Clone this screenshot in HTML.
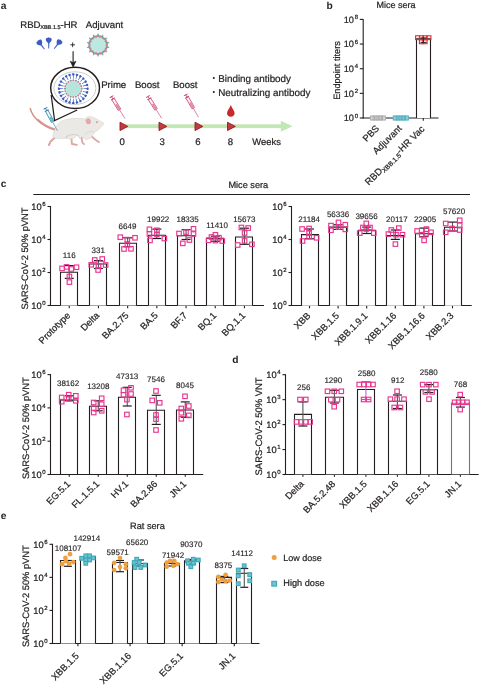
<!DOCTYPE html><html><head><meta charset="utf-8"><style>html,body{margin:0;padding:0;background:#fff;width:480px;height:685px;overflow:hidden}svg{display:block;will-change:transform}text{font-family:"Liberation Sans",sans-serif;text-rendering:geometricPrecision;stroke:#231f20;stroke-width:0.22px}</style></head><body>
<svg width="480" height="685" viewBox="0 0 480 685">
<rect width="480" height="685" fill="#fff"/>
<text x="0.80" y="9.20" font-size="10.2" text-anchor="start" fill="#231f20" font-weight="bold" style="stroke:none">a</text>
<text x="326.60" y="8.90" font-size="10.2" text-anchor="start" fill="#231f20" font-weight="bold" style="stroke:none">b</text>
<text x="0.80" y="186.80" font-size="10.2" text-anchor="start" fill="#231f20" font-weight="bold" style="stroke:none">c</text>
<text x="232.20" y="363.30" font-size="10.2" text-anchor="start" fill="#231f20" font-weight="bold" style="stroke:none">d</text>
<text x="0.80" y="519.30" font-size="10.2" text-anchor="start" fill="#231f20" font-weight="bold" style="stroke:none">e</text>
<line x1="33.30" y1="194.50" x2="470.00" y2="194.50" stroke="#231f20" stroke-width="1.1" />
<text x="248.30" y="188.00" font-size="9.2" text-anchor="middle" fill="#231f20" font-weight="normal" >Mice sera</text>
<line x1="50.50" y1="206.00" x2="50.50" y2="306.00" stroke="#231f20" stroke-width="1.1" />
<line x1="50.00" y1="305.50" x2="264.00" y2="305.50" stroke="#231f20" stroke-width="1.1" />
<line x1="47.50" y1="305.50" x2="50.50" y2="305.50" stroke="#231f20" stroke-width="1.1" />
<text x="41.60" y="308.90" font-size="9.3" text-anchor="end" fill="#231f20">10</text>
<text x="45.50" y="305.20" font-size="6.0" text-anchor="end" fill="#231f20">0</text>
<line x1="47.50" y1="272.50" x2="50.50" y2="272.50" stroke="#231f20" stroke-width="1.1" />
<text x="41.60" y="275.90" font-size="9.3" text-anchor="end" fill="#231f20">10</text>
<text x="45.50" y="272.20" font-size="6.0" text-anchor="end" fill="#231f20">2</text>
<line x1="47.50" y1="239.50" x2="50.50" y2="239.50" stroke="#231f20" stroke-width="1.1" />
<text x="41.60" y="242.90" font-size="9.3" text-anchor="end" fill="#231f20">10</text>
<text x="45.50" y="239.20" font-size="6.0" text-anchor="end" fill="#231f20">4</text>
<line x1="47.50" y1="206.50" x2="50.50" y2="206.50" stroke="#231f20" stroke-width="1.1" />
<text x="41.60" y="209.90" font-size="9.3" text-anchor="end" fill="#231f20">10</text>
<text x="45.50" y="206.20" font-size="6.0" text-anchor="end" fill="#231f20">6</text>
<line x1="69.25" y1="305.60" x2="69.25" y2="308.20" stroke="#231f20" stroke-width="1.1" />
<text transform="translate(70.85,316.00) rotate(-45)" font-size="9.4" text-anchor="end" fill="#231f20">Prototype</text>
<line x1="98.45" y1="305.60" x2="98.45" y2="308.20" stroke="#231f20" stroke-width="1.1" />
<text transform="translate(100.05,316.00) rotate(-45)" font-size="9.4" text-anchor="end" fill="#231f20">Delta</text>
<line x1="127.65" y1="305.60" x2="127.65" y2="308.20" stroke="#231f20" stroke-width="1.1" />
<text transform="translate(129.25,316.00) rotate(-45)" font-size="9.4" text-anchor="end" fill="#231f20">BA.2.75</text>
<line x1="156.85" y1="305.60" x2="156.85" y2="308.20" stroke="#231f20" stroke-width="1.1" />
<text transform="translate(158.45,316.00) rotate(-45)" font-size="9.4" text-anchor="end" fill="#231f20">BA.5</text>
<line x1="186.05" y1="305.60" x2="186.05" y2="308.20" stroke="#231f20" stroke-width="1.1" />
<text transform="translate(187.65,316.00) rotate(-45)" font-size="9.4" text-anchor="end" fill="#231f20">BF.7</text>
<line x1="215.25" y1="305.60" x2="215.25" y2="308.20" stroke="#231f20" stroke-width="1.1" />
<text transform="translate(216.85,316.00) rotate(-45)" font-size="9.4" text-anchor="end" fill="#231f20">BQ.1</text>
<line x1="244.45" y1="305.60" x2="244.45" y2="308.20" stroke="#231f20" stroke-width="1.1" />
<text transform="translate(246.05,316.00) rotate(-45)" font-size="9.4" text-anchor="end" fill="#231f20">BQ.1.1</text>
<path d="M60.50,305.60 V272.20 H77.50 V305.60" fill="#fff" stroke="#231f20" stroke-width="1.1"/>
<path d="M89.50,305.60 V264.00 H106.50 V305.60" fill="#fff" stroke="#231f20" stroke-width="1.1"/>
<path d="M119.50,305.60 V243.20 H136.50 V305.60" fill="#fff" stroke="#231f20" stroke-width="1.1"/>
<path d="M148.50,305.60 V235.30 H165.50 V305.60" fill="#fff" stroke="#231f20" stroke-width="1.1"/>
<path d="M177.50,305.60 V235.70 H194.50 V305.60" fill="#fff" stroke="#231f20" stroke-width="1.1"/>
<path d="M206.50,305.60 V238.40 H223.50 V305.60" fill="#fff" stroke="#231f20" stroke-width="1.1"/>
<path d="M235.50,305.60 V237.00 H252.50 V305.60" fill="#fff" stroke="#231f20" stroke-width="1.1"/>
<line x1="69.25" y1="265.60" x2="69.25" y2="278.40" stroke="#555" stroke-width="1.1" />
<line x1="64.75" y1="265.60" x2="73.75" y2="265.60" stroke="#231f20" stroke-width="1.2" />
<line x1="64.75" y1="278.40" x2="73.75" y2="278.40" stroke="#231f20" stroke-width="1.2" />
<rect x="59.85" y="266.15" width="4.5" height="4.5" fill="none" stroke="#e8368e" stroke-width="1.15"/>
<rect x="64.35" y="264.65" width="4.5" height="4.5" fill="none" stroke="#e8368e" stroke-width="1.15"/>
<rect x="69.00" y="266.75" width="4.5" height="4.5" fill="none" stroke="#e8368e" stroke-width="1.15"/>
<rect x="74.25" y="265.00" width="4.5" height="4.5" fill="none" stroke="#e8368e" stroke-width="1.15"/>
<rect x="67.15" y="274.25" width="4.5" height="4.5" fill="none" stroke="#e8368e" stroke-width="1.15"/>
<rect x="67.15" y="279.85" width="4.5" height="4.5" fill="none" stroke="#e8368e" stroke-width="1.15"/>
<text x="69.25" y="257.60" font-size="8.0" text-anchor="middle" fill="#231f20" font-weight="normal" style="stroke-width:0.14px">116</text>
<line x1="98.45" y1="260.60" x2="98.45" y2="268.50" stroke="#555" stroke-width="1.1" />
<line x1="93.95" y1="260.60" x2="102.95" y2="260.60" stroke="#231f20" stroke-width="1.2" />
<line x1="93.95" y1="268.50" x2="102.95" y2="268.50" stroke="#231f20" stroke-width="1.2" />
<rect x="92.50" y="257.75" width="4.5" height="4.5" fill="none" stroke="#e8368e" stroke-width="1.15"/>
<rect x="100.00" y="256.75" width="4.5" height="4.5" fill="none" stroke="#e8368e" stroke-width="1.15"/>
<rect x="89.00" y="262.50" width="4.5" height="4.5" fill="none" stroke="#e8368e" stroke-width="1.15"/>
<rect x="103.35" y="262.75" width="4.5" height="4.5" fill="none" stroke="#e8368e" stroke-width="1.15"/>
<rect x="96.25" y="263.75" width="4.5" height="4.5" fill="none" stroke="#e8368e" stroke-width="1.15"/>
<rect x="95.85" y="267.75" width="4.5" height="4.5" fill="none" stroke="#e8368e" stroke-width="1.15"/>
<text x="98.30" y="253.20" font-size="8.0" text-anchor="middle" fill="#231f20" font-weight="normal" style="stroke-width:0.14px">331</text>
<line x1="127.65" y1="237.80" x2="127.65" y2="246.60" stroke="#555" stroke-width="1.1" />
<line x1="123.15" y1="237.80" x2="132.15" y2="237.80" stroke="#231f20" stroke-width="1.2" />
<line x1="123.15" y1="246.60" x2="132.15" y2="246.60" stroke="#231f20" stroke-width="1.2" />
<rect x="118.05" y="234.95" width="4.5" height="4.5" fill="none" stroke="#e8368e" stroke-width="1.15"/>
<rect x="132.75" y="235.55" width="4.5" height="4.5" fill="none" stroke="#e8368e" stroke-width="1.15"/>
<rect x="125.05" y="237.35" width="4.5" height="4.5" fill="none" stroke="#e8368e" stroke-width="1.15"/>
<rect x="121.75" y="246.75" width="4.5" height="4.5" fill="none" stroke="#e8368e" stroke-width="1.15"/>
<rect x="128.75" y="246.55" width="4.5" height="4.5" fill="none" stroke="#e8368e" stroke-width="1.15"/>
<rect x="125.15" y="242.45" width="4.5" height="4.5" fill="none" stroke="#e8368e" stroke-width="1.15"/>
<text x="127.50" y="229.10" font-size="8.0" text-anchor="middle" fill="#231f20" font-weight="normal" style="stroke-width:0.14px">6649</text>
<line x1="156.85" y1="229.10" x2="156.85" y2="238.50" stroke="#555" stroke-width="1.1" />
<line x1="152.35" y1="229.10" x2="161.35" y2="229.10" stroke="#231f20" stroke-width="1.2" />
<line x1="152.35" y1="238.50" x2="161.35" y2="238.50" stroke="#231f20" stroke-width="1.2" />
<rect x="147.15" y="227.05" width="4.5" height="4.5" fill="none" stroke="#e8368e" stroke-width="1.15"/>
<rect x="147.15" y="231.75" width="4.5" height="4.5" fill="none" stroke="#e8368e" stroke-width="1.15"/>
<rect x="154.65" y="228.05" width="4.5" height="4.5" fill="none" stroke="#e8368e" stroke-width="1.15"/>
<rect x="154.65" y="232.15" width="4.5" height="4.5" fill="none" stroke="#e8368e" stroke-width="1.15"/>
<rect x="147.75" y="238.15" width="4.5" height="4.5" fill="none" stroke="#e8368e" stroke-width="1.15"/>
<rect x="162.15" y="236.25" width="4.5" height="4.5" fill="none" stroke="#e8368e" stroke-width="1.15"/>
<text x="158.20" y="222.30" font-size="8.0" text-anchor="middle" fill="#231f20" font-weight="normal" style="stroke-width:0.14px">19922</text>
<line x1="186.05" y1="229.70" x2="186.05" y2="239.50" stroke="#555" stroke-width="1.1" />
<line x1="181.55" y1="229.70" x2="190.55" y2="229.70" stroke="#231f20" stroke-width="1.2" />
<line x1="181.55" y1="239.50" x2="190.55" y2="239.50" stroke="#231f20" stroke-width="1.2" />
<rect x="176.75" y="231.25" width="4.5" height="4.5" fill="none" stroke="#e8368e" stroke-width="1.15"/>
<rect x="183.75" y="229.85" width="4.5" height="4.5" fill="none" stroke="#e8368e" stroke-width="1.15"/>
<rect x="191.25" y="226.55" width="4.5" height="4.5" fill="none" stroke="#e8368e" stroke-width="1.15"/>
<rect x="191.25" y="231.75" width="4.5" height="4.5" fill="none" stroke="#e8368e" stroke-width="1.15"/>
<rect x="187.15" y="237.75" width="4.5" height="4.5" fill="none" stroke="#e8368e" stroke-width="1.15"/>
<rect x="180.55" y="241.15" width="4.5" height="4.5" fill="none" stroke="#e8368e" stroke-width="1.15"/>
<text x="187.60" y="222.30" font-size="8.0" text-anchor="middle" fill="#231f20" font-weight="normal" style="stroke-width:0.14px">18335</text>
<line x1="215.25" y1="236.20" x2="215.25" y2="241.30" stroke="#555" stroke-width="1.1" />
<line x1="210.75" y1="236.20" x2="219.75" y2="236.20" stroke="#231f20" stroke-width="1.2" />
<line x1="210.75" y1="241.30" x2="219.75" y2="241.30" stroke="#231f20" stroke-width="1.2" />
<rect x="206.35" y="238.05" width="4.5" height="4.5" fill="none" stroke="#e8368e" stroke-width="1.15"/>
<rect x="209.25" y="234.75" width="4.5" height="4.5" fill="none" stroke="#e8368e" stroke-width="1.15"/>
<rect x="213.15" y="232.55" width="4.5" height="4.5" fill="none" stroke="#e8368e" stroke-width="1.15"/>
<rect x="216.75" y="235.45" width="4.5" height="4.5" fill="none" stroke="#e8368e" stroke-width="1.15"/>
<rect x="220.05" y="238.75" width="4.5" height="4.5" fill="none" stroke="#e8368e" stroke-width="1.15"/>
<rect x="213.15" y="238.35" width="4.5" height="4.5" fill="none" stroke="#e8368e" stroke-width="1.15"/>
<text x="217.20" y="228.20" font-size="8.0" text-anchor="middle" fill="#231f20" font-weight="normal" style="stroke-width:0.14px">11410</text>
<line x1="244.45" y1="228.20" x2="244.45" y2="244.30" stroke="#555" stroke-width="1.1" />
<line x1="239.95" y1="228.20" x2="248.95" y2="228.20" stroke="#231f20" stroke-width="1.2" />
<line x1="239.95" y1="244.30" x2="248.95" y2="244.30" stroke="#231f20" stroke-width="1.2" />
<rect x="239.15" y="225.25" width="4.5" height="4.5" fill="none" stroke="#e8368e" stroke-width="1.15"/>
<rect x="245.95" y="225.75" width="4.5" height="4.5" fill="none" stroke="#e8368e" stroke-width="1.15"/>
<rect x="242.35" y="230.75" width="4.5" height="4.5" fill="none" stroke="#e8368e" stroke-width="1.15"/>
<rect x="242.35" y="238.65" width="4.5" height="4.5" fill="none" stroke="#e8368e" stroke-width="1.15"/>
<rect x="235.45" y="242.75" width="4.5" height="4.5" fill="none" stroke="#e8368e" stroke-width="1.15"/>
<rect x="249.65" y="242.05" width="4.5" height="4.5" fill="none" stroke="#e8368e" stroke-width="1.15"/>
<text x="244.30" y="222.40" font-size="8.0" text-anchor="middle" fill="#231f20" font-weight="normal" style="stroke-width:0.14px">15673</text>
<line x1="291.50" y1="206.00" x2="291.50" y2="306.00" stroke="#231f20" stroke-width="1.1" />
<line x1="291.00" y1="305.50" x2="471.70" y2="305.50" stroke="#231f20" stroke-width="1.1" />
<line x1="288.50" y1="305.50" x2="291.50" y2="305.50" stroke="#231f20" stroke-width="1.1" />
<text x="282.60" y="308.90" font-size="9.3" text-anchor="end" fill="#231f20">10</text>
<text x="286.50" y="305.20" font-size="6.0" text-anchor="end" fill="#231f20">0</text>
<line x1="288.50" y1="272.50" x2="291.50" y2="272.50" stroke="#231f20" stroke-width="1.1" />
<text x="282.60" y="275.90" font-size="9.3" text-anchor="end" fill="#231f20">10</text>
<text x="286.50" y="272.20" font-size="6.0" text-anchor="end" fill="#231f20">2</text>
<line x1="288.50" y1="239.50" x2="291.50" y2="239.50" stroke="#231f20" stroke-width="1.1" />
<text x="282.60" y="242.90" font-size="9.3" text-anchor="end" fill="#231f20">10</text>
<text x="286.50" y="239.20" font-size="6.0" text-anchor="end" fill="#231f20">4</text>
<line x1="288.50" y1="206.50" x2="291.50" y2="206.50" stroke="#231f20" stroke-width="1.1" />
<text x="282.60" y="209.90" font-size="9.3" text-anchor="end" fill="#231f20">10</text>
<text x="286.50" y="206.20" font-size="6.0" text-anchor="end" fill="#231f20">6</text>
<line x1="309.50" y1="305.80" x2="309.50" y2="308.40" stroke="#231f20" stroke-width="1.1" />
<text transform="translate(311.10,316.20) rotate(-45)" font-size="9.4" text-anchor="end" fill="#231f20">XBB</text>
<line x1="338.10" y1="305.80" x2="338.10" y2="308.40" stroke="#231f20" stroke-width="1.1" />
<text transform="translate(339.70,316.20) rotate(-45)" font-size="9.4" text-anchor="end" fill="#231f20">XBB.1.5</text>
<line x1="366.70" y1="305.80" x2="366.70" y2="308.40" stroke="#231f20" stroke-width="1.1" />
<text transform="translate(368.30,316.20) rotate(-45)" font-size="9.4" text-anchor="end" fill="#231f20">XBB.1.9.1</text>
<line x1="395.30" y1="305.80" x2="395.30" y2="308.40" stroke="#231f20" stroke-width="1.1" />
<text transform="translate(396.90,316.20) rotate(-45)" font-size="9.4" text-anchor="end" fill="#231f20">XBB.1.16</text>
<line x1="423.90" y1="305.80" x2="423.90" y2="308.40" stroke="#231f20" stroke-width="1.1" />
<text transform="translate(425.50,316.20) rotate(-45)" font-size="9.4" text-anchor="end" fill="#231f20">XBB.1.16.6</text>
<line x1="452.50" y1="305.80" x2="452.50" y2="308.40" stroke="#231f20" stroke-width="1.1" />
<text transform="translate(454.10,316.20) rotate(-45)" font-size="9.4" text-anchor="end" fill="#231f20">XBB.2.3</text>
<path d="M301.50,305.80 V234.60 H318.50 V305.80" fill="#fff" stroke="#231f20" stroke-width="1.1"/>
<path d="M329.50,305.80 V227.10 H346.50 V305.80" fill="#fff" stroke="#231f20" stroke-width="1.1"/>
<path d="M358.50,305.80 V230.30 H375.50 V305.80" fill="#fff" stroke="#231f20" stroke-width="1.1"/>
<path d="M386.50,305.80 V235.60 H403.50 V305.80" fill="#fff" stroke="#231f20" stroke-width="1.1"/>
<path d="M415.50,305.80 V233.80 H432.50 V305.80" fill="#fff" stroke="#231f20" stroke-width="1.1"/>
<path d="M444.50,305.80 V227.20 H461.50 V305.80" fill="#fff" stroke="#231f20" stroke-width="1.1"/>
<line x1="309.50" y1="229.00" x2="309.50" y2="238.80" stroke="#555" stroke-width="1.1" />
<line x1="305.00" y1="229.00" x2="314.00" y2="229.00" stroke="#231f20" stroke-width="1.2" />
<line x1="305.00" y1="238.80" x2="314.00" y2="238.80" stroke="#231f20" stroke-width="1.2" />
<rect x="299.85" y="226.75" width="4.5" height="4.5" fill="none" stroke="#e8368e" stroke-width="1.15"/>
<rect x="306.85" y="226.25" width="4.5" height="4.5" fill="none" stroke="#e8368e" stroke-width="1.15"/>
<rect x="306.85" y="230.85" width="4.5" height="4.5" fill="none" stroke="#e8368e" stroke-width="1.15"/>
<rect x="306.85" y="234.25" width="4.5" height="4.5" fill="none" stroke="#e8368e" stroke-width="1.15"/>
<rect x="314.35" y="235.55" width="4.5" height="4.5" fill="none" stroke="#e8368e" stroke-width="1.15"/>
<rect x="300.25" y="238.75" width="4.5" height="4.5" fill="none" stroke="#e8368e" stroke-width="1.15"/>
<text x="309.20" y="222.20" font-size="8.0" text-anchor="middle" fill="#231f20" font-weight="normal" style="stroke-width:0.14px">21184</text>
<line x1="338.10" y1="224.70" x2="338.10" y2="229.40" stroke="#555" stroke-width="1.1" />
<line x1="333.60" y1="224.70" x2="342.60" y2="224.70" stroke="#231f20" stroke-width="1.2" />
<line x1="333.60" y1="229.40" x2="342.60" y2="229.40" stroke="#231f20" stroke-width="1.2" />
<rect x="336.25" y="220.15" width="4.5" height="4.5" fill="none" stroke="#e8368e" stroke-width="1.15"/>
<rect x="328.75" y="223.35" width="4.5" height="4.5" fill="none" stroke="#e8368e" stroke-width="1.15"/>
<rect x="343.05" y="222.45" width="4.5" height="4.5" fill="none" stroke="#e8368e" stroke-width="1.15"/>
<rect x="328.75" y="228.05" width="4.5" height="4.5" fill="none" stroke="#e8368e" stroke-width="1.15"/>
<rect x="343.05" y="227.15" width="4.5" height="4.5" fill="none" stroke="#e8368e" stroke-width="1.15"/>
<rect x="336.25" y="224.85" width="4.5" height="4.5" fill="none" stroke="#e8368e" stroke-width="1.15"/>
<text x="338.00" y="217.00" font-size="8.0" text-anchor="middle" fill="#231f20" font-weight="normal" style="stroke-width:0.14px">56336</text>
<line x1="366.70" y1="227.10" x2="366.70" y2="233.50" stroke="#555" stroke-width="1.1" />
<line x1="362.20" y1="227.10" x2="371.20" y2="227.10" stroke="#231f20" stroke-width="1.2" />
<line x1="362.20" y1="233.50" x2="371.20" y2="233.50" stroke="#231f20" stroke-width="1.2" />
<rect x="364.05" y="221.15" width="4.5" height="4.5" fill="none" stroke="#e8368e" stroke-width="1.15"/>
<rect x="360.65" y="225.25" width="4.5" height="4.5" fill="none" stroke="#e8368e" stroke-width="1.15"/>
<rect x="367.75" y="225.25" width="4.5" height="4.5" fill="none" stroke="#e8368e" stroke-width="1.15"/>
<rect x="357.45" y="230.85" width="4.5" height="4.5" fill="none" stroke="#e8368e" stroke-width="1.15"/>
<rect x="371.55" y="230.85" width="4.5" height="4.5" fill="none" stroke="#e8368e" stroke-width="1.15"/>
<rect x="364.05" y="226.75" width="4.5" height="4.5" fill="none" stroke="#e8368e" stroke-width="1.15"/>
<text x="366.50" y="218.50" font-size="8.0" text-anchor="middle" fill="#231f20" font-weight="normal" style="stroke-width:0.14px">39656</text>
<line x1="395.30" y1="230.00" x2="395.30" y2="239.40" stroke="#555" stroke-width="1.1" />
<line x1="390.80" y1="230.00" x2="399.80" y2="230.00" stroke="#231f20" stroke-width="1.2" />
<line x1="390.80" y1="239.40" x2="399.80" y2="239.40" stroke="#231f20" stroke-width="1.2" />
<rect x="389.05" y="227.75" width="4.5" height="4.5" fill="none" stroke="#e8368e" stroke-width="1.15"/>
<rect x="396.55" y="225.85" width="4.5" height="4.5" fill="none" stroke="#e8368e" stroke-width="1.15"/>
<rect x="386.15" y="231.85" width="4.5" height="4.5" fill="none" stroke="#e8368e" stroke-width="1.15"/>
<rect x="393.75" y="232.45" width="4.5" height="4.5" fill="none" stroke="#e8368e" stroke-width="1.15"/>
<rect x="400.25" y="232.45" width="4.5" height="4.5" fill="none" stroke="#e8368e" stroke-width="1.15"/>
<rect x="393.15" y="241.85" width="4.5" height="4.5" fill="none" stroke="#e8368e" stroke-width="1.15"/>
<text x="396.90" y="222.30" font-size="8.0" text-anchor="middle" fill="#231f20" font-weight="normal" style="stroke-width:0.14px">20117</text>
<line x1="423.90" y1="228.10" x2="423.90" y2="236.60" stroke="#555" stroke-width="1.1" />
<line x1="419.40" y1="228.10" x2="428.40" y2="228.10" stroke="#231f20" stroke-width="1.2" />
<line x1="419.40" y1="236.60" x2="428.40" y2="236.60" stroke="#231f20" stroke-width="1.2" />
<rect x="414.85" y="228.75" width="4.5" height="4.5" fill="none" stroke="#e8368e" stroke-width="1.15"/>
<rect x="424.25" y="226.85" width="4.5" height="4.5" fill="none" stroke="#e8368e" stroke-width="1.15"/>
<rect x="428.75" y="230.05" width="4.5" height="4.5" fill="none" stroke="#e8368e" stroke-width="1.15"/>
<rect x="419.45" y="232.45" width="4.5" height="4.5" fill="none" stroke="#e8368e" stroke-width="1.15"/>
<rect x="423.75" y="231.55" width="4.5" height="4.5" fill="none" stroke="#e8368e" stroke-width="1.15"/>
<rect x="421.85" y="238.05" width="4.5" height="4.5" fill="none" stroke="#e8368e" stroke-width="1.15"/>
<text x="425.00" y="222.30" font-size="8.0" text-anchor="middle" fill="#231f20" font-weight="normal" style="stroke-width:0.14px">22905</text>
<line x1="452.50" y1="222.10" x2="452.50" y2="231.00" stroke="#555" stroke-width="1.1" />
<line x1="448.00" y1="222.10" x2="457.00" y2="222.10" stroke="#231f20" stroke-width="1.2" />
<line x1="448.00" y1="231.00" x2="457.00" y2="231.00" stroke="#231f20" stroke-width="1.2" />
<rect x="443.45" y="221.25" width="4.5" height="4.5" fill="none" stroke="#e8368e" stroke-width="1.15"/>
<rect x="457.45" y="218.05" width="4.5" height="4.5" fill="none" stroke="#e8368e" stroke-width="1.15"/>
<rect x="457.45" y="223.05" width="4.5" height="4.5" fill="none" stroke="#e8368e" stroke-width="1.15"/>
<rect x="449.95" y="226.25" width="4.5" height="4.5" fill="none" stroke="#e8368e" stroke-width="1.15"/>
<rect x="457.45" y="227.75" width="4.5" height="4.5" fill="none" stroke="#e8368e" stroke-width="1.15"/>
<rect x="443.45" y="230.05" width="4.5" height="4.5" fill="none" stroke="#e8368e" stroke-width="1.15"/>
<text x="454.10" y="214.20" font-size="8.0" text-anchor="middle" fill="#231f20" font-weight="normal" style="stroke-width:0.14px">57620</text>
<line x1="50.50" y1="374.10" x2="50.50" y2="475.00" stroke="#231f20" stroke-width="1.1" />
<line x1="50.00" y1="474.50" x2="203.25" y2="474.50" stroke="#231f20" stroke-width="1.1" />
<line x1="47.50" y1="474.50" x2="50.50" y2="474.50" stroke="#231f20" stroke-width="1.1" />
<text x="41.60" y="477.90" font-size="9.3" text-anchor="end" fill="#231f20">10</text>
<text x="45.50" y="474.20" font-size="6.0" text-anchor="end" fill="#231f20">0</text>
<line x1="47.50" y1="441.20" x2="50.50" y2="441.20" stroke="#231f20" stroke-width="1.1" />
<text x="41.60" y="444.60" font-size="9.3" text-anchor="end" fill="#231f20">10</text>
<text x="45.50" y="440.90" font-size="6.0" text-anchor="end" fill="#231f20">2</text>
<line x1="47.50" y1="407.90" x2="50.50" y2="407.90" stroke="#231f20" stroke-width="1.1" />
<text x="41.60" y="411.30" font-size="9.3" text-anchor="end" fill="#231f20">10</text>
<text x="45.50" y="407.60" font-size="6.0" text-anchor="end" fill="#231f20">4</text>
<line x1="47.50" y1="374.60" x2="50.50" y2="374.60" stroke="#231f20" stroke-width="1.1" />
<text x="41.60" y="378.00" font-size="9.3" text-anchor="end" fill="#231f20">10</text>
<text x="45.50" y="374.30" font-size="6.0" text-anchor="end" fill="#231f20">6</text>
<line x1="69.25" y1="474.10" x2="69.25" y2="476.70" stroke="#231f20" stroke-width="1.1" />
<text transform="translate(70.85,484.50) rotate(-45)" font-size="9.4" text-anchor="end" fill="#231f20">EG.5.1</text>
<line x1="98.25" y1="474.10" x2="98.25" y2="476.70" stroke="#231f20" stroke-width="1.1" />
<text transform="translate(99.85,484.50) rotate(-45)" font-size="9.4" text-anchor="end" fill="#231f20">FL.1.5.1</text>
<line x1="127.25" y1="474.10" x2="127.25" y2="476.70" stroke="#231f20" stroke-width="1.1" />
<text transform="translate(128.85,484.50) rotate(-45)" font-size="9.4" text-anchor="end" fill="#231f20">HV.1</text>
<line x1="156.25" y1="474.10" x2="156.25" y2="476.70" stroke="#231f20" stroke-width="1.1" />
<text transform="translate(157.85,484.50) rotate(-45)" font-size="9.4" text-anchor="end" fill="#231f20">BA.2.86</text>
<line x1="185.25" y1="474.10" x2="185.25" y2="476.70" stroke="#231f20" stroke-width="1.1" />
<text transform="translate(186.85,484.50) rotate(-45)" font-size="9.4" text-anchor="end" fill="#231f20">JN.1</text>
<path d="M60.50,474.10 V400.00 H77.50 V474.10" fill="#fff" stroke="#231f20" stroke-width="1.1"/>
<path d="M89.50,474.10 V406.30 H106.50 V474.10" fill="#fff" stroke="#231f20" stroke-width="1.1"/>
<path d="M118.50,474.10 V397.20 H135.50 V474.10" fill="#fff" stroke="#231f20" stroke-width="1.1"/>
<path d="M147.50,474.10 V410.30 H164.50 V474.10" fill="#fff" stroke="#231f20" stroke-width="1.1"/>
<path d="M176.50,474.10 V410.00 H193.50 V474.10" fill="#fff" stroke="#231f20" stroke-width="1.1"/>
<line x1="69.25" y1="395.80" x2="69.25" y2="400.80" stroke="#555" stroke-width="1.1" />
<line x1="64.75" y1="395.80" x2="73.75" y2="395.80" stroke="#231f20" stroke-width="1.2" />
<line x1="64.75" y1="400.80" x2="73.75" y2="400.80" stroke="#231f20" stroke-width="1.2" />
<rect x="59.45" y="395.25" width="4.5" height="4.5" fill="none" stroke="#e8368e" stroke-width="1.15"/>
<rect x="59.45" y="399.45" width="4.5" height="4.5" fill="none" stroke="#e8368e" stroke-width="1.15"/>
<rect x="66.45" y="392.45" width="4.5" height="4.5" fill="none" stroke="#e8368e" stroke-width="1.15"/>
<rect x="73.55" y="393.55" width="4.5" height="4.5" fill="none" stroke="#e8368e" stroke-width="1.15"/>
<rect x="73.55" y="398.55" width="4.5" height="4.5" fill="none" stroke="#e8368e" stroke-width="1.15"/>
<rect x="66.45" y="396.45" width="4.5" height="4.5" fill="none" stroke="#e8368e" stroke-width="1.15"/>
<text x="68.10" y="385.70" font-size="8.0" text-anchor="middle" fill="#231f20" font-weight="normal" style="stroke-width:0.14px">38162</text>
<line x1="98.25" y1="400.80" x2="98.25" y2="410.80" stroke="#555" stroke-width="1.1" />
<line x1="93.75" y1="400.80" x2="102.75" y2="400.80" stroke="#231f20" stroke-width="1.2" />
<line x1="93.75" y1="410.80" x2="102.75" y2="410.80" stroke="#231f20" stroke-width="1.2" />
<rect x="91.45" y="400.25" width="4.5" height="4.5" fill="none" stroke="#e8368e" stroke-width="1.15"/>
<rect x="99.45" y="396.05" width="4.5" height="4.5" fill="none" stroke="#e8368e" stroke-width="1.15"/>
<rect x="99.45" y="401.95" width="4.5" height="4.5" fill="none" stroke="#e8368e" stroke-width="1.15"/>
<rect x="91.45" y="406.05" width="4.5" height="4.5" fill="none" stroke="#e8368e" stroke-width="1.15"/>
<rect x="99.45" y="408.55" width="4.5" height="4.5" fill="none" stroke="#e8368e" stroke-width="1.15"/>
<rect x="91.45" y="410.25" width="4.5" height="4.5" fill="none" stroke="#e8368e" stroke-width="1.15"/>
<text x="98.30" y="388.70" font-size="8.0" text-anchor="middle" fill="#231f20" font-weight="normal" style="stroke-width:0.14px">13208</text>
<line x1="127.25" y1="387.30" x2="127.25" y2="406.00" stroke="#555" stroke-width="1.1" />
<line x1="122.75" y1="387.30" x2="131.75" y2="387.30" stroke="#231f20" stroke-width="1.2" />
<line x1="122.75" y1="406.00" x2="131.75" y2="406.00" stroke="#231f20" stroke-width="1.2" />
<rect x="121.25" y="388.05" width="4.5" height="4.5" fill="none" stroke="#e8368e" stroke-width="1.15"/>
<rect x="121.25" y="392.55" width="4.5" height="4.5" fill="none" stroke="#e8368e" stroke-width="1.15"/>
<rect x="128.75" y="385.55" width="4.5" height="4.5" fill="none" stroke="#e8368e" stroke-width="1.15"/>
<rect x="128.75" y="391.75" width="4.5" height="4.5" fill="none" stroke="#e8368e" stroke-width="1.15"/>
<rect x="124.65" y="397.35" width="4.5" height="4.5" fill="none" stroke="#e8368e" stroke-width="1.15"/>
<rect x="124.65" y="412.25" width="4.5" height="4.5" fill="none" stroke="#e8368e" stroke-width="1.15"/>
<text x="127.20" y="379.10" font-size="8.0" text-anchor="middle" fill="#231f20" font-weight="normal" style="stroke-width:0.14px">47313</text>
<line x1="156.25" y1="395.30" x2="156.25" y2="424.40" stroke="#555" stroke-width="1.1" />
<line x1="151.75" y1="395.30" x2="160.75" y2="395.30" stroke="#231f20" stroke-width="1.2" />
<line x1="151.75" y1="424.40" x2="160.75" y2="424.40" stroke="#231f20" stroke-width="1.2" />
<rect x="153.75" y="388.75" width="4.5" height="4.5" fill="none" stroke="#e8368e" stroke-width="1.15"/>
<rect x="149.95" y="398.15" width="4.5" height="4.5" fill="none" stroke="#e8368e" stroke-width="1.15"/>
<rect x="157.45" y="400.55" width="4.5" height="4.5" fill="none" stroke="#e8368e" stroke-width="1.15"/>
<rect x="153.75" y="412.75" width="4.5" height="4.5" fill="none" stroke="#e8368e" stroke-width="1.15"/>
<rect x="153.75" y="416.95" width="4.5" height="4.5" fill="none" stroke="#e8368e" stroke-width="1.15"/>
<rect x="153.75" y="427.75" width="4.5" height="4.5" fill="none" stroke="#e8368e" stroke-width="1.15"/>
<text x="156.00" y="382.00" font-size="8.0" text-anchor="middle" fill="#231f20" font-weight="normal" style="stroke-width:0.14px">7546</text>
<line x1="185.25" y1="401.90" x2="185.25" y2="417.30" stroke="#555" stroke-width="1.1" />
<line x1="180.75" y1="401.90" x2="189.75" y2="401.90" stroke="#231f20" stroke-width="1.2" />
<line x1="180.75" y1="417.30" x2="189.75" y2="417.30" stroke="#231f20" stroke-width="1.2" />
<rect x="182.75" y="394.05" width="4.5" height="4.5" fill="none" stroke="#e8368e" stroke-width="1.15"/>
<rect x="179.05" y="406.25" width="4.5" height="4.5" fill="none" stroke="#e8368e" stroke-width="1.15"/>
<rect x="186.55" y="403.75" width="4.5" height="4.5" fill="none" stroke="#e8368e" stroke-width="1.15"/>
<rect x="179.05" y="410.55" width="4.5" height="4.5" fill="none" stroke="#e8368e" stroke-width="1.15"/>
<rect x="186.55" y="413.15" width="4.5" height="4.5" fill="none" stroke="#e8368e" stroke-width="1.15"/>
<rect x="179.05" y="416.55" width="4.5" height="4.5" fill="none" stroke="#e8368e" stroke-width="1.15"/>
<text x="185.00" y="388.00" font-size="8.0" text-anchor="middle" fill="#231f20" font-weight="normal" style="stroke-width:0.14px">8045</text>
<text transform="translate(28.40,258.50) rotate(-90)" font-size="9.3" text-anchor="middle" fill="#231f20">SARS-CoV-2 50% pVNT</text>
<text transform="translate(28.70,428.20) rotate(-90)" font-size="9.3" text-anchor="middle" fill="#231f20">SARS-CoV-2 50% pVNT</text>
<line x1="285.50" y1="374.20" x2="285.50" y2="475.00" stroke="#231f20" stroke-width="1.1" />
<line x1="285.00" y1="474.50" x2="478.70" y2="474.50" stroke="#231f20" stroke-width="1.1" />
<line x1="282.50" y1="474.50" x2="285.50" y2="474.50" stroke="#231f20" stroke-width="1.1" />
<text x="276.60" y="477.90" font-size="9.3" text-anchor="end" fill="#231f20">10</text>
<text x="280.50" y="474.20" font-size="6.0" text-anchor="end" fill="#231f20">0</text>
<line x1="282.50" y1="449.55" x2="285.50" y2="449.55" stroke="#231f20" stroke-width="1.1" />
<text x="276.60" y="452.95" font-size="9.3" text-anchor="end" fill="#231f20">10</text>
<text x="280.50" y="449.25" font-size="6.0" text-anchor="end" fill="#231f20">1</text>
<line x1="282.50" y1="424.60" x2="285.50" y2="424.60" stroke="#231f20" stroke-width="1.1" />
<text x="276.60" y="428.00" font-size="9.3" text-anchor="end" fill="#231f20">10</text>
<text x="280.50" y="424.30" font-size="6.0" text-anchor="end" fill="#231f20">2</text>
<line x1="282.50" y1="399.65" x2="285.50" y2="399.65" stroke="#231f20" stroke-width="1.1" />
<text x="276.60" y="403.05" font-size="9.3" text-anchor="end" fill="#231f20">10</text>
<text x="280.50" y="399.35" font-size="6.0" text-anchor="end" fill="#231f20">3</text>
<line x1="282.50" y1="374.70" x2="285.50" y2="374.70" stroke="#231f20" stroke-width="1.1" />
<text x="276.60" y="378.10" font-size="9.3" text-anchor="end" fill="#231f20">10</text>
<text x="280.50" y="374.40" font-size="6.0" text-anchor="end" fill="#231f20">4</text>
<line x1="302.90" y1="474.20" x2="302.90" y2="476.80" stroke="#231f20" stroke-width="1.1" />
<text transform="translate(304.50,484.60) rotate(-45)" font-size="9.4" text-anchor="end" fill="#231f20">Delta</text>
<line x1="334.40" y1="474.20" x2="334.40" y2="476.80" stroke="#231f20" stroke-width="1.1" />
<text transform="translate(336.00,484.60) rotate(-45)" font-size="9.4" text-anchor="end" fill="#231f20">BA.5.2.48</text>
<line x1="365.90" y1="474.20" x2="365.90" y2="476.80" stroke="#231f20" stroke-width="1.1" />
<text transform="translate(367.50,484.60) rotate(-45)" font-size="9.4" text-anchor="end" fill="#231f20">XBB.1.5</text>
<line x1="397.40" y1="474.20" x2="397.40" y2="476.80" stroke="#231f20" stroke-width="1.1" />
<text transform="translate(399.00,484.60) rotate(-45)" font-size="9.4" text-anchor="end" fill="#231f20">XBB.1.16</text>
<line x1="428.90" y1="474.20" x2="428.90" y2="476.80" stroke="#231f20" stroke-width="1.1" />
<text transform="translate(430.50,484.60) rotate(-45)" font-size="9.4" text-anchor="end" fill="#231f20">EG.5.1</text>
<line x1="460.40" y1="474.20" x2="460.40" y2="476.80" stroke="#231f20" stroke-width="1.1" />
<text transform="translate(462.00,484.60) rotate(-45)" font-size="9.4" text-anchor="end" fill="#231f20">JN.1</text>
<path d="M294.50,474.20 V414.40 H311.50 V474.20" fill="#fff" stroke="#231f20" stroke-width="1.1"/>
<path d="M325.50,474.20 V397.20 H343.50 V474.20" fill="#fff" stroke="#231f20" stroke-width="1.1"/>
<path d="M357.50,474.20 V389.50 H374.50 V474.20" fill="#fff" stroke="#231f20" stroke-width="1.1"/>
<path d="M388.50,474.20 V401.25 H406.50 V474.20" fill="#fff" stroke="#231f20" stroke-width="1.1"/>
<path d="M420.50,474.20 V389.80 H437.50 V474.20" fill="#fff" stroke="#231f20" stroke-width="1.1"/>
<path d="M451.50,474.20 V403.30 H469.50 V474.20" fill="#fff" stroke="#6f7d52" stroke-width="1.1"/>
<line x1="302.90" y1="401.90" x2="302.90" y2="426.00" stroke="#555" stroke-width="1.1" />
<line x1="298.40" y1="401.90" x2="307.40" y2="401.90" stroke="#231f20" stroke-width="1.2" />
<line x1="298.40" y1="426.00" x2="307.40" y2="426.00" stroke="#231f20" stroke-width="1.2" />
<rect x="297.75" y="397.25" width="4.5" height="4.5" fill="none" stroke="#e8368e" stroke-width="1.15"/>
<rect x="303.55" y="397.25" width="4.5" height="4.5" fill="none" stroke="#e8368e" stroke-width="1.15"/>
<rect x="294.25" y="419.65" width="4.5" height="4.5" fill="none" stroke="#e8368e" stroke-width="1.15"/>
<rect x="298.95" y="419.65" width="4.5" height="4.5" fill="none" stroke="#e8368e" stroke-width="1.15"/>
<rect x="303.65" y="419.65" width="4.5" height="4.5" fill="none" stroke="#e8368e" stroke-width="1.15"/>
<rect x="307.95" y="419.65" width="4.5" height="4.5" fill="none" stroke="#e8368e" stroke-width="1.15"/>
<text x="303.70" y="389.80" font-size="8.0" text-anchor="middle" fill="#231f20" font-weight="normal" style="stroke-width:0.14px">256</text>
<line x1="334.40" y1="390.30" x2="334.40" y2="403.00" stroke="#555" stroke-width="1.1" />
<line x1="329.90" y1="390.30" x2="338.90" y2="390.30" stroke="#231f20" stroke-width="1.2" />
<line x1="329.90" y1="403.00" x2="338.90" y2="403.00" stroke="#231f20" stroke-width="1.2" />
<rect x="325.25" y="389.05" width="4.5" height="4.5" fill="none" stroke="#e8368e" stroke-width="1.15"/>
<rect x="331.95" y="389.05" width="4.5" height="4.5" fill="none" stroke="#e8368e" stroke-width="1.15"/>
<rect x="339.05" y="389.05" width="4.5" height="4.5" fill="none" stroke="#e8368e" stroke-width="1.15"/>
<rect x="328.55" y="397.45" width="4.5" height="4.5" fill="none" stroke="#e8368e" stroke-width="1.15"/>
<rect x="335.25" y="397.45" width="4.5" height="4.5" fill="none" stroke="#e8368e" stroke-width="1.15"/>
<rect x="331.95" y="404.45" width="4.5" height="4.5" fill="none" stroke="#e8368e" stroke-width="1.15"/>
<text x="333.30" y="382.60" font-size="8.0" text-anchor="middle" fill="#231f20" font-weight="normal" style="stroke-width:0.14px">1290</text>
<line x1="365.90" y1="381.70" x2="365.90" y2="399.50" stroke="#b070d8" stroke-width="1.1" />
<line x1="361.40" y1="381.70" x2="370.40" y2="381.70" stroke="#a060c8" stroke-width="1.2" />
<line x1="361.40" y1="399.50" x2="370.40" y2="399.50" stroke="#a060c8" stroke-width="1.2" />
<rect x="356.95" y="382.25" width="4.5" height="4.5" fill="none" stroke="#e8368e" stroke-width="1.15"/>
<rect x="361.75" y="382.25" width="4.5" height="4.5" fill="none" stroke="#e8368e" stroke-width="1.15"/>
<rect x="366.35" y="382.25" width="4.5" height="4.5" fill="none" stroke="#e8368e" stroke-width="1.15"/>
<rect x="370.75" y="382.25" width="4.5" height="4.5" fill="none" stroke="#e8368e" stroke-width="1.15"/>
<rect x="361.35" y="397.25" width="4.5" height="4.5" fill="none" stroke="#e8368e" stroke-width="1.15"/>
<rect x="366.35" y="397.25" width="4.5" height="4.5" fill="none" stroke="#e8368e" stroke-width="1.15"/>
<text x="366.60" y="375.60" font-size="8.0" text-anchor="middle" fill="#231f20" font-weight="normal" style="stroke-width:0.14px">2580</text>
<line x1="397.40" y1="395.00" x2="397.40" y2="408.50" stroke="#555" stroke-width="1.1" />
<line x1="392.90" y1="395.00" x2="401.90" y2="395.00" stroke="#231f20" stroke-width="1.2" />
<line x1="392.90" y1="408.50" x2="401.90" y2="408.50" stroke="#231f20" stroke-width="1.2" />
<rect x="394.85" y="389.00" width="4.5" height="4.5" fill="none" stroke="#e8368e" stroke-width="1.15"/>
<rect x="388.15" y="396.95" width="4.5" height="4.5" fill="none" stroke="#e8368e" stroke-width="1.15"/>
<rect x="394.85" y="396.95" width="4.5" height="4.5" fill="none" stroke="#e8368e" stroke-width="1.15"/>
<rect x="401.75" y="396.95" width="4.5" height="4.5" fill="none" stroke="#e8368e" stroke-width="1.15"/>
<rect x="391.95" y="405.25" width="4.5" height="4.5" fill="none" stroke="#e8368e" stroke-width="1.15"/>
<rect x="398.15" y="405.25" width="4.5" height="4.5" fill="none" stroke="#e8368e" stroke-width="1.15"/>
<text x="397.70" y="382.60" font-size="8.0" text-anchor="middle" fill="#231f20" font-weight="normal" style="stroke-width:0.14px">912</text>
<line x1="428.90" y1="384.60" x2="428.90" y2="392.50" stroke="#555" stroke-width="1.1" />
<line x1="424.40" y1="384.60" x2="433.40" y2="384.60" stroke="#231f20" stroke-width="1.2" />
<line x1="424.40" y1="392.50" x2="433.40" y2="392.50" stroke="#231f20" stroke-width="1.2" />
<rect x="420.45" y="382.35" width="4.5" height="4.5" fill="none" stroke="#e8368e" stroke-width="1.15"/>
<rect x="426.75" y="382.35" width="4.5" height="4.5" fill="none" stroke="#e8368e" stroke-width="1.15"/>
<rect x="433.55" y="382.35" width="4.5" height="4.5" fill="none" stroke="#e8368e" stroke-width="1.15"/>
<rect x="423.15" y="389.65" width="4.5" height="4.5" fill="none" stroke="#e8368e" stroke-width="1.15"/>
<rect x="429.85" y="389.65" width="4.5" height="4.5" fill="none" stroke="#e8368e" stroke-width="1.15"/>
<rect x="426.75" y="396.95" width="4.5" height="4.5" fill="none" stroke="#e8368e" stroke-width="1.15"/>
<text x="428.70" y="375.20" font-size="8.0" text-anchor="middle" fill="#231f20" font-weight="normal" style="stroke-width:0.14px">2580</text>
<line x1="460.40" y1="397.50" x2="460.40" y2="407.10" stroke="#555" stroke-width="1.1" />
<line x1="455.90" y1="397.50" x2="464.90" y2="397.50" stroke="#231f20" stroke-width="1.2" />
<line x1="455.90" y1="407.10" x2="464.90" y2="407.10" stroke="#231f20" stroke-width="1.2" />
<rect x="457.95" y="392.35" width="4.5" height="4.5" fill="none" stroke="#e8368e" stroke-width="1.15"/>
<rect x="452.35" y="400.05" width="4.5" height="4.5" fill="none" stroke="#e8368e" stroke-width="1.15"/>
<rect x="456.35" y="400.05" width="4.5" height="4.5" fill="none" stroke="#e8368e" stroke-width="1.15"/>
<rect x="460.35" y="400.05" width="4.5" height="4.5" fill="none" stroke="#e8368e" stroke-width="1.15"/>
<rect x="464.75" y="400.05" width="4.5" height="4.5" fill="none" stroke="#e8368e" stroke-width="1.15"/>
<rect x="457.95" y="407.35" width="4.5" height="4.5" fill="none" stroke="#e8368e" stroke-width="1.15"/>
<text x="460.50" y="387.30" font-size="8.0" text-anchor="middle" fill="#231f20" font-weight="normal" style="stroke-width:0.14px">768</text>
<text transform="translate(261.60,426.40) rotate(-90)" font-size="9.45" text-anchor="middle" fill="#231f20">SARS-CoV-2 50% VNT</text>
<line x1="52.50" y1="543.80" x2="52.50" y2="644.00" stroke="#231f20" stroke-width="1.1" />
<line x1="52.00" y1="643.50" x2="259.50" y2="643.50" stroke="#231f20" stroke-width="1.1" />
<line x1="49.50" y1="643.50" x2="52.50" y2="643.50" stroke="#231f20" stroke-width="1.1" />
<text x="43.60" y="646.90" font-size="9.3" text-anchor="end" fill="#231f20">10</text>
<text x="47.50" y="643.20" font-size="6.0" text-anchor="end" fill="#231f20">0</text>
<line x1="49.50" y1="610.43" x2="52.50" y2="610.43" stroke="#231f20" stroke-width="1.1" />
<text x="43.60" y="613.83" font-size="9.3" text-anchor="end" fill="#231f20">10</text>
<text x="47.50" y="610.13" font-size="6.0" text-anchor="end" fill="#231f20">2</text>
<line x1="49.50" y1="577.37" x2="52.50" y2="577.37" stroke="#231f20" stroke-width="1.1" />
<text x="43.60" y="580.77" font-size="9.3" text-anchor="end" fill="#231f20">10</text>
<text x="47.50" y="577.07" font-size="6.0" text-anchor="end" fill="#231f20">4</text>
<line x1="49.50" y1="544.30" x2="52.50" y2="544.30" stroke="#231f20" stroke-width="1.1" />
<text x="43.60" y="547.70" font-size="9.3" text-anchor="end" fill="#231f20">10</text>
<text x="47.50" y="544.00" font-size="6.0" text-anchor="end" fill="#231f20">6</text>
<line x1="77.90" y1="643.60" x2="77.90" y2="646.20" stroke="#231f20" stroke-width="1.1" />
<text transform="translate(79.50,656.60) rotate(-45)" font-size="9.4" text-anchor="end" fill="#231f20">XBB.1.5</text>
<line x1="130.03" y1="643.60" x2="130.03" y2="646.20" stroke="#231f20" stroke-width="1.1" />
<text transform="translate(131.63,656.60) rotate(-45)" font-size="9.4" text-anchor="end" fill="#231f20">XBB.1.16</text>
<line x1="182.16" y1="643.60" x2="182.16" y2="646.20" stroke="#231f20" stroke-width="1.1" />
<text transform="translate(183.76,656.60) rotate(-45)" font-size="9.4" text-anchor="end" fill="#231f20">EG.5.1</text>
<line x1="234.29" y1="643.60" x2="234.29" y2="646.20" stroke="#231f20" stroke-width="1.1" />
<text transform="translate(235.89,656.60) rotate(-45)" font-size="9.4" text-anchor="end" fill="#231f20">JN.1</text>
<path d="M60.50,643.60 V560.50 H75.50 V643.60" fill="#fff" stroke="#231f20" stroke-width="1.1"/>
<path d="M80.50,643.60 V556.70 H95.50 V643.60" fill="#fff" stroke="#231f20" stroke-width="1.1"/>
<path d="M112.50,643.60 V562.50 H127.50 V643.60" fill="#fff" stroke="#231f20" stroke-width="1.1"/>
<path d="M132.50,643.60 V563.50 H147.50 V643.60" fill="#fff" stroke="#231f20" stroke-width="1.1"/>
<path d="M164.50,643.60 V563.50 H179.50 V643.60" fill="#fff" stroke="#231f20" stroke-width="1.1"/>
<path d="M184.50,643.60 V560.80 H199.50 V643.60" fill="#fff" stroke="#231f20" stroke-width="1.1"/>
<path d="M216.50,643.60 V577.40 H231.50 V643.60" fill="#fff" stroke="#231f20" stroke-width="1.1"/>
<path d="M236.50,643.60 V573.20 H251.50 V643.60" fill="#fff" stroke="#231f20" stroke-width="1.1"/>
<line x1="67.90" y1="560.50" x2="67.90" y2="566.30" stroke="#555" stroke-width="1.1" />
<line x1="63.90" y1="560.50" x2="71.90" y2="560.50" stroke="#231f20" stroke-width="1.2" />
<line x1="63.90" y1="566.30" x2="71.90" y2="566.30" stroke="#231f20" stroke-width="1.2" />
<circle cx="70.00" cy="554.20" r="2.35" fill="#ee9f3f"/>
<circle cx="65.40" cy="557.90" r="2.35" fill="#ee9f3f"/>
<circle cx="65.80" cy="561.25" r="2.35" fill="#ee9f3f"/>
<circle cx="62.10" cy="564.20" r="2.35" fill="#ee9f3f"/>
<circle cx="69.20" cy="563.75" r="2.35" fill="#ee9f3f"/>
<circle cx="73.30" cy="562.10" r="2.35" fill="#ee9f3f"/>
<text x="68.10" y="551.40" font-size="8.0" text-anchor="middle" fill="#231f20" font-weight="normal" style="stroke-width:0.14px">108107</text>
<line x1="87.90" y1="555.50" x2="87.90" y2="561.00" stroke="#555" stroke-width="1.1" />
<line x1="83.90" y1="555.50" x2="91.90" y2="555.50" stroke="#231f20" stroke-width="1.2" />
<line x1="83.90" y1="561.00" x2="91.90" y2="561.00" stroke="#231f20" stroke-width="1.2" />
<rect x="79.85" y="556.45" width="3.7" height="3.7" fill="#6fc2cc" stroke="#3ba9b8" stroke-width="1.1"/>
<rect x="83.95" y="553.95" width="3.7" height="3.7" fill="#6fc2cc" stroke="#3ba9b8" stroke-width="1.1"/>
<rect x="87.75" y="553.95" width="3.7" height="3.7" fill="#6fc2cc" stroke="#3ba9b8" stroke-width="1.1"/>
<rect x="91.45" y="556.05" width="3.7" height="3.7" fill="#6fc2cc" stroke="#3ba9b8" stroke-width="1.1"/>
<rect x="83.95" y="558.15" width="3.7" height="3.7" fill="#6fc2cc" stroke="#3ba9b8" stroke-width="1.1"/>
<rect x="87.75" y="558.15" width="3.7" height="3.7" fill="#6fc2cc" stroke="#3ba9b8" stroke-width="1.1"/>
<rect x="83.95" y="561.45" width="3.7" height="3.7" fill="#6fc2cc" stroke="#3ba9b8" stroke-width="1.1"/>
<text x="86.80" y="540.60" font-size="8.0" text-anchor="middle" fill="#231f20" font-weight="normal" style="stroke-width:0.14px">142914</text>
<line x1="120.03" y1="560.50" x2="120.03" y2="571.70" stroke="#555" stroke-width="1.1" />
<line x1="116.03" y1="560.50" x2="124.03" y2="560.50" stroke="#231f20" stroke-width="1.2" />
<line x1="116.03" y1="571.70" x2="124.03" y2="571.70" stroke="#231f20" stroke-width="1.2" />
<circle cx="120.00" cy="558.00" r="2.35" fill="#ee9f3f"/>
<circle cx="114.20" cy="562.80" r="2.35" fill="#ee9f3f"/>
<circle cx="125.80" cy="564.20" r="2.35" fill="#ee9f3f"/>
<circle cx="120.00" cy="567.00" r="2.35" fill="#ee9f3f"/>
<circle cx="114.20" cy="570.00" r="2.35" fill="#ee9f3f"/>
<circle cx="125.80" cy="568.30" r="2.35" fill="#ee9f3f"/>
<text x="117.70" y="554.80" font-size="8.0" text-anchor="middle" fill="#231f20" font-weight="normal" style="stroke-width:0.14px">59571</text>
<line x1="140.03" y1="560.00" x2="140.03" y2="566.00" stroke="#555" stroke-width="1.1" />
<line x1="136.03" y1="560.00" x2="144.03" y2="560.00" stroke="#231f20" stroke-width="1.2" />
<line x1="136.03" y1="566.00" x2="144.03" y2="566.00" stroke="#231f20" stroke-width="1.2" />
<rect x="134.85" y="557.35" width="3.7" height="3.7" fill="#6fc2cc" stroke="#3ba9b8" stroke-width="1.1"/>
<rect x="132.35" y="560.65" width="3.7" height="3.7" fill="#6fc2cc" stroke="#3ba9b8" stroke-width="1.1"/>
<rect x="137.35" y="560.65" width="3.7" height="3.7" fill="#6fc2cc" stroke="#3ba9b8" stroke-width="1.1"/>
<rect x="143.15" y="563.15" width="3.7" height="3.7" fill="#6fc2cc" stroke="#3ba9b8" stroke-width="1.1"/>
<rect x="133.15" y="565.65" width="3.7" height="3.7" fill="#6fc2cc" stroke="#3ba9b8" stroke-width="1.1"/>
<rect x="138.95" y="565.65" width="3.7" height="3.7" fill="#6fc2cc" stroke="#3ba9b8" stroke-width="1.1"/>
<text x="137.20" y="544.80" font-size="8.0" text-anchor="middle" fill="#231f20" font-weight="normal" style="stroke-width:0.14px">65620</text>
<line x1="172.16" y1="561.00" x2="172.16" y2="566.00" stroke="#555" stroke-width="1.1" />
<line x1="168.16" y1="561.00" x2="176.16" y2="561.00" stroke="#231f20" stroke-width="1.2" />
<line x1="168.16" y1="566.00" x2="176.16" y2="566.00" stroke="#231f20" stroke-width="1.2" />
<circle cx="166.70" cy="562.50" r="2.35" fill="#ee9f3f"/>
<circle cx="170.00" cy="560.80" r="2.35" fill="#ee9f3f"/>
<circle cx="174.20" cy="560.80" r="2.35" fill="#ee9f3f"/>
<circle cx="177.50" cy="564.20" r="2.35" fill="#ee9f3f"/>
<circle cx="166.70" cy="566.70" r="2.35" fill="#ee9f3f"/>
<circle cx="173.30" cy="565.80" r="2.35" fill="#ee9f3f"/>
<text x="173.00" y="557.90" font-size="8.0" text-anchor="middle" fill="#231f20" font-weight="normal" style="stroke-width:0.14px">71942</text>
<line x1="192.16" y1="559.50" x2="192.16" y2="564.00" stroke="#555" stroke-width="1.1" />
<line x1="188.16" y1="559.50" x2="196.16" y2="559.50" stroke="#231f20" stroke-width="1.2" />
<line x1="188.16" y1="564.00" x2="196.16" y2="564.00" stroke="#231f20" stroke-width="1.2" />
<rect x="185.65" y="558.95" width="3.7" height="3.7" fill="#6fc2cc" stroke="#3ba9b8" stroke-width="1.1"/>
<rect x="191.45" y="557.35" width="3.7" height="3.7" fill="#6fc2cc" stroke="#3ba9b8" stroke-width="1.1"/>
<rect x="196.45" y="558.15" width="3.7" height="3.7" fill="#6fc2cc" stroke="#3ba9b8" stroke-width="1.1"/>
<rect x="186.45" y="561.45" width="3.7" height="3.7" fill="#6fc2cc" stroke="#3ba9b8" stroke-width="1.1"/>
<rect x="191.45" y="561.45" width="3.7" height="3.7" fill="#6fc2cc" stroke="#3ba9b8" stroke-width="1.1"/>
<rect x="188.95" y="564.85" width="3.7" height="3.7" fill="#6fc2cc" stroke="#3ba9b8" stroke-width="1.1"/>
<text x="191.30" y="547.30" font-size="8.0" text-anchor="middle" fill="#231f20" font-weight="normal" style="stroke-width:0.14px">90370</text>
<line x1="224.29" y1="576.40" x2="224.29" y2="582.60" stroke="#555" stroke-width="1.1" />
<line x1="220.29" y1="576.40" x2="228.29" y2="576.40" stroke="#231f20" stroke-width="1.2" />
<line x1="220.29" y1="582.60" x2="228.29" y2="582.60" stroke="#231f20" stroke-width="1.2" />
<circle cx="218.30" cy="576.90" r="2.35" fill="#ee9f3f"/>
<circle cx="225.60" cy="574.80" r="2.35" fill="#ee9f3f"/>
<circle cx="222.00" cy="579.50" r="2.35" fill="#ee9f3f"/>
<circle cx="218.30" cy="582.10" r="2.35" fill="#ee9f3f"/>
<circle cx="225.60" cy="581.00" r="2.35" fill="#ee9f3f"/>
<circle cx="229.80" cy="580.50" r="2.35" fill="#ee9f3f"/>
<text x="223.40" y="567.60" font-size="8.0" text-anchor="middle" fill="#231f20" font-weight="normal" style="stroke-width:0.14px">8375</text>
<line x1="244.29" y1="568.50" x2="244.29" y2="587.30" stroke="#555" stroke-width="1.1" />
<line x1="240.29" y1="568.50" x2="248.29" y2="568.50" stroke="#231f20" stroke-width="1.2" />
<line x1="240.29" y1="587.30" x2="248.29" y2="587.30" stroke="#231f20" stroke-width="1.2" />
<rect x="242.35" y="563.95" width="3.7" height="3.7" fill="#6fc2cc" stroke="#3ba9b8" stroke-width="1.1"/>
<rect x="236.45" y="568.15" width="3.7" height="3.7" fill="#6fc2cc" stroke="#3ba9b8" stroke-width="1.1"/>
<rect x="247.85" y="572.85" width="3.7" height="3.7" fill="#6fc2cc" stroke="#3ba9b8" stroke-width="1.1"/>
<rect x="236.45" y="573.95" width="3.7" height="3.7" fill="#6fc2cc" stroke="#3ba9b8" stroke-width="1.1"/>
<rect x="247.85" y="578.95" width="3.7" height="3.7" fill="#6fc2cc" stroke="#3ba9b8" stroke-width="1.1"/>
<rect x="236.45" y="581.85" width="3.7" height="3.7" fill="#6fc2cc" stroke="#3ba9b8" stroke-width="1.1"/>
<text x="242.20" y="556.40" font-size="8.0" text-anchor="middle" fill="#231f20" font-weight="normal" style="stroke-width:0.14px">14112</text>
<text x="147.40" y="528.50" font-size="9.2" text-anchor="middle" fill="#231f20" font-weight="normal" >Rat sera</text>
<text transform="translate(28.80,596.20) rotate(-90)" font-size="9.3" text-anchor="middle" fill="#231f20">SARS-CoV-2 50% pVNT</text>
<circle cx="274.20" cy="557.50" r="2.5" fill="#ee9f3f"/>
<rect x="271.80" y="581.30" width="4.8" height="4.8" fill="#6fc2cc" stroke="#3ba9b8" stroke-width="1.1"/>
<text x="283.30" y="560.80" font-size="9.0" text-anchor="start" fill="#231f20" font-weight="normal" >Low dose</text>
<text x="283.30" y="585.80" font-size="9.2" text-anchor="start" fill="#231f20" font-weight="normal" >High dose</text>
<line x1="363.20" y1="19.00" x2="363.20" y2="118.50" stroke="#231f20" stroke-width="1.1" />
<line x1="362.70" y1="118.00" x2="438.50" y2="118.00" stroke="#231f20" stroke-width="1.1" />
<line x1="359.80" y1="118.00" x2="363.20" y2="118.00" stroke="#231f20" stroke-width="1.1" />
<text x="353.90" y="121.40" font-size="9.2" text-anchor="end" fill="#231f20">10</text>
<text x="358.20" y="117.70" font-size="6.0" text-anchor="end" fill="#231f20">0</text>
<line x1="359.80" y1="93.35" x2="363.20" y2="93.35" stroke="#231f20" stroke-width="1.1" />
<text x="353.90" y="96.75" font-size="9.2" text-anchor="end" fill="#231f20">10</text>
<text x="358.20" y="93.05" font-size="6.0" text-anchor="end" fill="#231f20">2</text>
<line x1="359.80" y1="68.70" x2="363.20" y2="68.70" stroke="#231f20" stroke-width="1.1" />
<text x="353.90" y="72.10" font-size="9.2" text-anchor="end" fill="#231f20">10</text>
<text x="358.20" y="68.40" font-size="6.0" text-anchor="end" fill="#231f20">4</text>
<line x1="359.80" y1="44.05" x2="363.20" y2="44.05" stroke="#231f20" stroke-width="1.1" />
<text x="353.90" y="47.45" font-size="9.2" text-anchor="end" fill="#231f20">10</text>
<text x="358.20" y="43.75" font-size="6.0" text-anchor="end" fill="#231f20">6</text>
<line x1="359.80" y1="19.40" x2="363.20" y2="19.40" stroke="#231f20" stroke-width="1.1" />
<text x="353.90" y="22.80" font-size="9.2" text-anchor="end" fill="#231f20">10</text>
<text x="358.20" y="19.10" font-size="6.0" text-anchor="end" fill="#231f20">8</text>
<text x="396.00" y="8.00" font-size="9.0" text-anchor="middle" fill="#231f20" font-weight="normal" >Mice sera</text>
<text transform="translate(340.20,70.50) rotate(-90)" font-size="9.2" text-anchor="middle" fill="#231f20">Endpoint titers</text>
<path d="M416.50,118.00 V38.80 H430.50 V118.00" fill="#fff" stroke="#231f20" stroke-width="1.1"/>
<line x1="423.25" y1="118.00" x2="423.25" y2="120.80" stroke="#231f20" stroke-width="1.1" />
<rect x="415.60" y="35.80" width="3.8" height="3.8" fill="none" stroke="#e8252b" stroke-width="1.1"/>
<rect x="419.60" y="35.80" width="3.8" height="3.8" fill="none" stroke="#e8252b" stroke-width="1.1"/>
<rect x="423.10" y="35.80" width="3.8" height="3.8" fill="none" stroke="#e8252b" stroke-width="1.1"/>
<rect x="427.10" y="35.80" width="3.8" height="3.8" fill="none" stroke="#e8252b" stroke-width="1.1"/>
<rect x="419.40" y="39.90" width="3.8" height="3.8" fill="none" stroke="#e8252b" stroke-width="1.1"/>
<rect x="423.30" y="39.90" width="3.8" height="3.8" fill="none" stroke="#e8252b" stroke-width="1.1"/>
<line x1="420.50" y1="37.90" x2="426.50" y2="37.90" stroke="#231f20" stroke-width="1.0" />
<line x1="420.50" y1="42.40" x2="426.50" y2="42.40" stroke="#231f20" stroke-width="1.0" />
<line x1="423.25" y1="37.90" x2="423.25" y2="42.40" stroke="#231f20" stroke-width="1.0" />
<rect x="370.2" y="115.6" width="15.8" height="4.8" fill="#d4d4d4"/>
<rect x="370.40" y="116.00" width="4.0" height="4.0" fill="none" stroke="#a8a8a8" stroke-width="0.8"/>
<rect x="373.15" y="116.00" width="4.0" height="4.0" fill="none" stroke="#a8a8a8" stroke-width="0.8"/>
<rect x="375.90" y="116.00" width="4.0" height="4.0" fill="none" stroke="#a8a8a8" stroke-width="0.8"/>
<rect x="378.65" y="116.00" width="4.0" height="4.0" fill="none" stroke="#a8a8a8" stroke-width="0.8"/>
<rect x="381.40" y="116.00" width="4.0" height="4.0" fill="none" stroke="#a8a8a8" stroke-width="0.8"/>
<rect x="392.8" y="115.6" width="16.0" height="4.8" fill="#8fd0d8"/>
<rect x="393.20" y="116.00" width="4.0" height="4.0" fill="none" stroke="#4fb0bd" stroke-width="0.8"/>
<rect x="396.00" y="116.00" width="4.0" height="4.0" fill="none" stroke="#4fb0bd" stroke-width="0.8"/>
<rect x="398.80" y="116.00" width="4.0" height="4.0" fill="none" stroke="#4fb0bd" stroke-width="0.8"/>
<rect x="401.60" y="116.00" width="4.0" height="4.0" fill="none" stroke="#4fb0bd" stroke-width="0.8"/>
<rect x="404.40" y="116.00" width="4.0" height="4.0" fill="none" stroke="#4fb0bd" stroke-width="0.8"/>
<text transform="translate(379.80,129.00) rotate(-45)" font-size="9.4" text-anchor="end" fill="#231f20">PBS</text>
<text transform="translate(402.40,129.00) rotate(-45)" font-size="9.4" text-anchor="end" fill="#231f20">Adjuvant</text>
<text transform="translate(425.0,129.6) rotate(-45)" font-size="9.5" text-anchor="end" fill="#231f20">RBD<tspan font-size="6.6" dy="2.0">XBB.1.5</tspan><tspan dy="-2.0">-HR Vac</tspan></text>
<text x="20.3" y="28.2" font-size="9.6" fill="#231f20">RBD<tspan font-size="5.6" dy="1.2" dx="-0.4">XBB.1.5</tspan><tspan dy="-1.2" dx="-0.2" font-size="9.6">-HR</tspan></text>
<text x="85.80" y="28.20" font-size="9.6" text-anchor="start" fill="#231f20" font-weight="normal" >Adjuvant</text>
<g transform="translate(40.00,43.20) rotate(-36) scale(1.0)"><path d="M-2.9,-0.6 C-3.3,-2.6 -1.9,-3.5 -0.9,-2.9 C-0.5,-3.7 0.5,-3.7 0.9,-2.9 C1.9,-3.5 3.3,-2.6 2.9,-0.6 C2.3,1.0 1.1,1.8 0.65,2.3 L0.42,7.6 L-0.42,7.6 L-0.65,2.3 C-1.1,1.8 -2.3,1.0 -2.9,-0.6 Z" fill="#3b5cc0"/></g>
<g transform="translate(48.75,40.80) rotate(0) scale(1.0)"><path d="M-2.9,-0.6 C-3.3,-2.6 -1.9,-3.5 -0.9,-2.9 C-0.5,-3.7 0.5,-3.7 0.9,-2.9 C1.9,-3.5 3.3,-2.6 2.9,-0.6 C2.3,1.0 1.1,1.8 0.65,2.3 L0.42,7.6 L-0.42,7.6 L-0.65,2.3 C-1.1,1.8 -2.3,1.0 -2.9,-0.6 Z" fill="#3b5cc0"/></g>
<g transform="translate(58.80,42.80) rotate(38) scale(1.0)"><path d="M-2.9,-0.6 C-3.3,-2.6 -1.9,-3.5 -0.9,-2.9 C-0.5,-3.7 0.5,-3.7 0.9,-2.9 C1.9,-3.5 3.3,-2.6 2.9,-0.6 C2.3,1.0 1.1,1.8 0.65,2.3 L0.42,7.6 L-0.42,7.6 L-0.65,2.3 C-1.1,1.8 -2.3,1.0 -2.9,-0.6 Z" fill="#3b5cc0"/></g>
<line x1="70.30" y1="44.80" x2="75.00" y2="44.80" stroke="#231f20" stroke-width="0.9" />
<line x1="72.65" y1="42.45" x2="72.65" y2="47.15" stroke="#231f20" stroke-width="0.9" />
<circle cx="98.1" cy="45.0" r="8.4" fill="#bde8df"/>
<path d="M98.10,33.10 L99.90,37.00 L96.30,37.00 Z" fill="#7ba784"/>
<circle cx="100.04" cy="36.52" r="1.2" fill="#e36fb6"/>
<path d="M103.26,34.28 L103.19,38.57 L99.95,37.01 Z" fill="#7ba784"/>
<circle cx="103.52" cy="38.20" r="1.2" fill="#e36fb6"/>
<path d="M107.40,37.58 L105.48,41.42 L103.23,38.60 Z" fill="#7ba784"/>
<circle cx="105.94" cy="41.23" r="1.2" fill="#e36fb6"/>
<path d="M109.70,42.35 L106.30,44.97 L105.50,41.46 Z" fill="#7ba784"/>
<circle cx="106.80" cy="45.00" r="1.2" fill="#e36fb6"/>
<path d="M109.70,47.65 L105.50,48.54 L106.30,45.03 Z" fill="#7ba784"/>
<circle cx="105.94" cy="48.77" r="1.2" fill="#e36fb6"/>
<path d="M107.40,52.42 L103.23,51.40 L105.48,48.58 Z" fill="#7ba784"/>
<circle cx="103.52" cy="51.80" r="1.2" fill="#e36fb6"/>
<path d="M103.26,55.72 L99.95,52.99 L103.19,51.43 Z" fill="#7ba784"/>
<circle cx="100.04" cy="53.48" r="1.2" fill="#e36fb6"/>
<path d="M98.10,56.90 L96.30,53.00 L99.90,53.00 Z" fill="#7ba784"/>
<circle cx="96.16" cy="53.48" r="1.2" fill="#e36fb6"/>
<path d="M92.94,55.72 L93.01,51.43 L96.25,52.99 Z" fill="#7ba784"/>
<circle cx="92.68" cy="51.80" r="1.2" fill="#e36fb6"/>
<path d="M88.80,52.42 L90.72,48.58 L92.97,51.40 Z" fill="#7ba784"/>
<circle cx="90.26" cy="48.77" r="1.2" fill="#e36fb6"/>
<path d="M86.50,47.65 L89.90,45.03 L90.70,48.54 Z" fill="#7ba784"/>
<circle cx="89.40" cy="45.00" r="1.2" fill="#e36fb6"/>
<path d="M86.50,42.35 L90.70,41.46 L89.90,44.97 Z" fill="#7ba784"/>
<circle cx="90.26" cy="41.23" r="1.2" fill="#e36fb6"/>
<path d="M88.80,37.58 L92.97,38.60 L90.72,41.42 Z" fill="#7ba784"/>
<circle cx="92.68" cy="38.20" r="1.2" fill="#e36fb6"/>
<path d="M92.94,34.28 L96.25,37.01 L93.01,38.57 Z" fill="#7ba784"/>
<circle cx="96.16" cy="36.52" r="1.2" fill="#e36fb6"/>
<line x1="73.10" y1="51.20" x2="73.10" y2="65.80" stroke="#231f20" stroke-width="1.1" />
<path d="M70.2,61.2 L73.1,67.0 L76.0,61.2 L73.1,62.6 Z" fill="#231f20" stroke="#231f20" stroke-width="0.6" stroke-linejoin="round"/>
<path d="M51.2,95.0 L54.6,120.6 L77.2,110.0" fill="none" stroke="#231f20" stroke-width="1.25"/>
<ellipse cx="75.1" cy="87.9" rx="24.4" ry="20.6" fill="#fff" stroke="#231f20" stroke-width="1.45"/>
<ellipse cx="74.9" cy="88.1" rx="21.0" ry="16.3" fill="none" stroke="#9a9a9a" stroke-width="0.5"/>
<g transform="translate(73.30,76.10) rotate(0.0)"><path d="M-1.3,-1.6 C-1.5,-2.6 -0.6,-3.0 0,-2.7 C0.6,-3.0 1.5,-2.6 1.3,-1.6 C1.0,-0.9 0.6,-0.5 0.35,-0.3 L0.3,2.6 L-0.3,2.6 L-0.35,-0.3 C-0.6,-0.5 -1.0,-0.9 -1.3,-1.6 Z" fill="#3b5cc0"/></g>
<g transform="translate(76.56,76.53) rotate(15.0)"><path d="M-1.3,-1.6 C-1.5,-2.6 -0.6,-3.0 0,-2.7 C0.6,-3.0 1.5,-2.6 1.3,-1.6 C1.0,-0.9 0.6,-0.5 0.35,-0.3 L0.3,2.6 L-0.3,2.6 L-0.35,-0.3 C-0.6,-0.5 -1.0,-0.9 -1.3,-1.6 Z" fill="#3b5cc0"/></g>
<g transform="translate(79.60,77.79) rotate(30.0)"><path d="M-1.3,-1.6 C-1.5,-2.6 -0.6,-3.0 0,-2.7 C0.6,-3.0 1.5,-2.6 1.3,-1.6 C1.0,-0.9 0.6,-0.5 0.35,-0.3 L0.3,2.6 L-0.3,2.6 L-0.35,-0.3 C-0.6,-0.5 -1.0,-0.9 -1.3,-1.6 Z" fill="#3b5cc0"/></g>
<g transform="translate(82.21,79.79) rotate(45.0)"><path d="M-1.3,-1.6 C-1.5,-2.6 -0.6,-3.0 0,-2.7 C0.6,-3.0 1.5,-2.6 1.3,-1.6 C1.0,-0.9 0.6,-0.5 0.35,-0.3 L0.3,2.6 L-0.3,2.6 L-0.35,-0.3 C-0.6,-0.5 -1.0,-0.9 -1.3,-1.6 Z" fill="#3b5cc0"/></g>
<g transform="translate(84.21,82.40) rotate(60.0)"><path d="M-1.3,-1.6 C-1.5,-2.6 -0.6,-3.0 0,-2.7 C0.6,-3.0 1.5,-2.6 1.3,-1.6 C1.0,-0.9 0.6,-0.5 0.35,-0.3 L0.3,2.6 L-0.3,2.6 L-0.35,-0.3 C-0.6,-0.5 -1.0,-0.9 -1.3,-1.6 Z" fill="#3b5cc0"/></g>
<g transform="translate(85.47,85.44) rotate(75.0)"><path d="M-1.3,-1.6 C-1.5,-2.6 -0.6,-3.0 0,-2.7 C0.6,-3.0 1.5,-2.6 1.3,-1.6 C1.0,-0.9 0.6,-0.5 0.35,-0.3 L0.3,2.6 L-0.3,2.6 L-0.35,-0.3 C-0.6,-0.5 -1.0,-0.9 -1.3,-1.6 Z" fill="#3b5cc0"/></g>
<g transform="translate(85.90,88.70) rotate(90.0)"><path d="M-1.3,-1.6 C-1.5,-2.6 -0.6,-3.0 0,-2.7 C0.6,-3.0 1.5,-2.6 1.3,-1.6 C1.0,-0.9 0.6,-0.5 0.35,-0.3 L0.3,2.6 L-0.3,2.6 L-0.35,-0.3 C-0.6,-0.5 -1.0,-0.9 -1.3,-1.6 Z" fill="#3b5cc0"/></g>
<g transform="translate(85.47,91.96) rotate(105.0)"><path d="M-1.3,-1.6 C-1.5,-2.6 -0.6,-3.0 0,-2.7 C0.6,-3.0 1.5,-2.6 1.3,-1.6 C1.0,-0.9 0.6,-0.5 0.35,-0.3 L0.3,2.6 L-0.3,2.6 L-0.35,-0.3 C-0.6,-0.5 -1.0,-0.9 -1.3,-1.6 Z" fill="#3b5cc0"/></g>
<g transform="translate(84.21,95.00) rotate(120.0)"><path d="M-1.3,-1.6 C-1.5,-2.6 -0.6,-3.0 0,-2.7 C0.6,-3.0 1.5,-2.6 1.3,-1.6 C1.0,-0.9 0.6,-0.5 0.35,-0.3 L0.3,2.6 L-0.3,2.6 L-0.35,-0.3 C-0.6,-0.5 -1.0,-0.9 -1.3,-1.6 Z" fill="#3b5cc0"/></g>
<g transform="translate(82.21,97.61) rotate(135.0)"><path d="M-1.3,-1.6 C-1.5,-2.6 -0.6,-3.0 0,-2.7 C0.6,-3.0 1.5,-2.6 1.3,-1.6 C1.0,-0.9 0.6,-0.5 0.35,-0.3 L0.3,2.6 L-0.3,2.6 L-0.35,-0.3 C-0.6,-0.5 -1.0,-0.9 -1.3,-1.6 Z" fill="#3b5cc0"/></g>
<g transform="translate(79.60,99.61) rotate(150.0)"><path d="M-1.3,-1.6 C-1.5,-2.6 -0.6,-3.0 0,-2.7 C0.6,-3.0 1.5,-2.6 1.3,-1.6 C1.0,-0.9 0.6,-0.5 0.35,-0.3 L0.3,2.6 L-0.3,2.6 L-0.35,-0.3 C-0.6,-0.5 -1.0,-0.9 -1.3,-1.6 Z" fill="#3b5cc0"/></g>
<g transform="translate(76.56,100.87) rotate(165.0)"><path d="M-1.3,-1.6 C-1.5,-2.6 -0.6,-3.0 0,-2.7 C0.6,-3.0 1.5,-2.6 1.3,-1.6 C1.0,-0.9 0.6,-0.5 0.35,-0.3 L0.3,2.6 L-0.3,2.6 L-0.35,-0.3 C-0.6,-0.5 -1.0,-0.9 -1.3,-1.6 Z" fill="#3b5cc0"/></g>
<g transform="translate(73.30,101.30) rotate(180.0)"><path d="M-1.3,-1.6 C-1.5,-2.6 -0.6,-3.0 0,-2.7 C0.6,-3.0 1.5,-2.6 1.3,-1.6 C1.0,-0.9 0.6,-0.5 0.35,-0.3 L0.3,2.6 L-0.3,2.6 L-0.35,-0.3 C-0.6,-0.5 -1.0,-0.9 -1.3,-1.6 Z" fill="#3b5cc0"/></g>
<g transform="translate(70.04,100.87) rotate(195.0)"><path d="M-1.3,-1.6 C-1.5,-2.6 -0.6,-3.0 0,-2.7 C0.6,-3.0 1.5,-2.6 1.3,-1.6 C1.0,-0.9 0.6,-0.5 0.35,-0.3 L0.3,2.6 L-0.3,2.6 L-0.35,-0.3 C-0.6,-0.5 -1.0,-0.9 -1.3,-1.6 Z" fill="#3b5cc0"/></g>
<g transform="translate(67.00,99.61) rotate(210.0)"><path d="M-1.3,-1.6 C-1.5,-2.6 -0.6,-3.0 0,-2.7 C0.6,-3.0 1.5,-2.6 1.3,-1.6 C1.0,-0.9 0.6,-0.5 0.35,-0.3 L0.3,2.6 L-0.3,2.6 L-0.35,-0.3 C-0.6,-0.5 -1.0,-0.9 -1.3,-1.6 Z" fill="#3b5cc0"/></g>
<g transform="translate(64.39,97.61) rotate(225.0)"><path d="M-1.3,-1.6 C-1.5,-2.6 -0.6,-3.0 0,-2.7 C0.6,-3.0 1.5,-2.6 1.3,-1.6 C1.0,-0.9 0.6,-0.5 0.35,-0.3 L0.3,2.6 L-0.3,2.6 L-0.35,-0.3 C-0.6,-0.5 -1.0,-0.9 -1.3,-1.6 Z" fill="#3b5cc0"/></g>
<g transform="translate(62.39,95.00) rotate(240.0)"><path d="M-1.3,-1.6 C-1.5,-2.6 -0.6,-3.0 0,-2.7 C0.6,-3.0 1.5,-2.6 1.3,-1.6 C1.0,-0.9 0.6,-0.5 0.35,-0.3 L0.3,2.6 L-0.3,2.6 L-0.35,-0.3 C-0.6,-0.5 -1.0,-0.9 -1.3,-1.6 Z" fill="#3b5cc0"/></g>
<g transform="translate(61.13,91.96) rotate(255.0)"><path d="M-1.3,-1.6 C-1.5,-2.6 -0.6,-3.0 0,-2.7 C0.6,-3.0 1.5,-2.6 1.3,-1.6 C1.0,-0.9 0.6,-0.5 0.35,-0.3 L0.3,2.6 L-0.3,2.6 L-0.35,-0.3 C-0.6,-0.5 -1.0,-0.9 -1.3,-1.6 Z" fill="#3b5cc0"/></g>
<g transform="translate(60.70,88.70) rotate(270.0)"><path d="M-1.3,-1.6 C-1.5,-2.6 -0.6,-3.0 0,-2.7 C0.6,-3.0 1.5,-2.6 1.3,-1.6 C1.0,-0.9 0.6,-0.5 0.35,-0.3 L0.3,2.6 L-0.3,2.6 L-0.35,-0.3 C-0.6,-0.5 -1.0,-0.9 -1.3,-1.6 Z" fill="#3b5cc0"/></g>
<g transform="translate(61.13,85.44) rotate(285.0)"><path d="M-1.3,-1.6 C-1.5,-2.6 -0.6,-3.0 0,-2.7 C0.6,-3.0 1.5,-2.6 1.3,-1.6 C1.0,-0.9 0.6,-0.5 0.35,-0.3 L0.3,2.6 L-0.3,2.6 L-0.35,-0.3 C-0.6,-0.5 -1.0,-0.9 -1.3,-1.6 Z" fill="#3b5cc0"/></g>
<g transform="translate(62.39,82.40) rotate(300.0)"><path d="M-1.3,-1.6 C-1.5,-2.6 -0.6,-3.0 0,-2.7 C0.6,-3.0 1.5,-2.6 1.3,-1.6 C1.0,-0.9 0.6,-0.5 0.35,-0.3 L0.3,2.6 L-0.3,2.6 L-0.35,-0.3 C-0.6,-0.5 -1.0,-0.9 -1.3,-1.6 Z" fill="#3b5cc0"/></g>
<g transform="translate(64.39,79.79) rotate(315.0)"><path d="M-1.3,-1.6 C-1.5,-2.6 -0.6,-3.0 0,-2.7 C0.6,-3.0 1.5,-2.6 1.3,-1.6 C1.0,-0.9 0.6,-0.5 0.35,-0.3 L0.3,2.6 L-0.3,2.6 L-0.35,-0.3 C-0.6,-0.5 -1.0,-0.9 -1.3,-1.6 Z" fill="#3b5cc0"/></g>
<g transform="translate(67.00,77.79) rotate(330.0)"><path d="M-1.3,-1.6 C-1.5,-2.6 -0.6,-3.0 0,-2.7 C0.6,-3.0 1.5,-2.6 1.3,-1.6 C1.0,-0.9 0.6,-0.5 0.35,-0.3 L0.3,2.6 L-0.3,2.6 L-0.35,-0.3 C-0.6,-0.5 -1.0,-0.9 -1.3,-1.6 Z" fill="#3b5cc0"/></g>
<g transform="translate(70.04,76.53) rotate(345.0)"><path d="M-1.3,-1.6 C-1.5,-2.6 -0.6,-3.0 0,-2.7 C0.6,-3.0 1.5,-2.6 1.3,-1.6 C1.0,-0.9 0.6,-0.5 0.35,-0.3 L0.3,2.6 L-0.3,2.6 L-0.35,-0.3 C-0.6,-0.5 -1.0,-0.9 -1.3,-1.6 Z" fill="#3b5cc0"/></g>
<circle cx="81.60" cy="88.70" r="1.1" fill="#7aa583"/>
<circle cx="81.19" cy="91.26" r="1.1" fill="#e071b5"/>
<circle cx="80.01" cy="93.58" r="1.1" fill="#7aa583"/>
<circle cx="78.18" cy="95.41" r="1.1" fill="#e071b5"/>
<circle cx="75.86" cy="96.59" r="1.1" fill="#7aa583"/>
<circle cx="73.30" cy="97.00" r="1.1" fill="#e071b5"/>
<circle cx="70.74" cy="96.59" r="1.1" fill="#7aa583"/>
<circle cx="68.42" cy="95.41" r="1.1" fill="#e071b5"/>
<circle cx="66.59" cy="93.58" r="1.1" fill="#7aa583"/>
<circle cx="65.41" cy="91.26" r="1.1" fill="#e071b5"/>
<circle cx="65.00" cy="88.70" r="1.1" fill="#7aa583"/>
<circle cx="65.41" cy="86.14" r="1.1" fill="#e071b5"/>
<circle cx="66.59" cy="83.82" r="1.1" fill="#7aa583"/>
<circle cx="68.42" cy="81.99" r="1.1" fill="#e071b5"/>
<circle cx="70.74" cy="80.81" r="1.1" fill="#7aa583"/>
<circle cx="73.30" cy="80.40" r="1.1" fill="#e071b5"/>
<circle cx="75.86" cy="80.81" r="1.1" fill="#7aa583"/>
<circle cx="78.18" cy="81.99" r="1.1" fill="#e071b5"/>
<circle cx="80.01" cy="83.82" r="1.1" fill="#7aa583"/>
<circle cx="81.19" cy="86.14" r="1.1" fill="#e071b5"/>
<circle cx="73.3" cy="88.7" r="7.4" fill="#b6e5dc"/>
<path d="M30.3,108.6 C32.5,117 40,125 56.5,130.2" fill="none" stroke="#d8948c" stroke-width="1.6" stroke-linecap="round"/>
<path d="M38,120 C43,125 49,128 56.5,130.2" fill="none" stroke="#d8948c" stroke-width="2.3" stroke-linecap="round"/>
<path d="M56,136.5 L50.6,141.6 L48.9,145.0" fill="none" stroke="#e0a6a1" stroke-width="2.1" stroke-linecap="round" stroke-linejoin="round"/>
<path d="M71.4,137.5 L71.9,144.0 L76.8,144.9" fill="none" stroke="#e0a6a1" stroke-width="1.9" stroke-linecap="round" stroke-linejoin="round"/>
<path d="M81.6,137.5 L82.4,142.6 L84.0,144.2" fill="none" stroke="#e0a6a1" stroke-width="1.8" stroke-linecap="round" stroke-linejoin="round"/>
<path d="M92.0,136.8 L96.5,140.6 L99.0,142.0" fill="none" stroke="#e0a6a1" stroke-width="1.8" stroke-linecap="round" stroke-linejoin="round"/>
<path d="M53.1,137.6 C53,134 53.5,132.5 54.4,130.75 C55.5,127 57,125 58.75,123.25 C61,121 63.5,120 66.25,119.5 C69.5,118.6 73,118.2 76.25,118.25 C79.5,118.3 82.5,118.8 85,118.9 C86,117.5 87.5,116.3 88.75,116.4 C90,116.4 91.3,116.6 92.5,117 C94.5,118 96,118.6 97.5,119.5 C100,121 102.2,122 103.9,123.3 C103.4,124.6 102,126.5 100,128.25 C98.5,129.6 96.8,130.8 95,132 C93.5,133.5 92.3,135.5 91.25,137.6 C89.5,138.5 88,139.2 86.25,139.5 C83.5,138 80.5,135.8 77.5,135.1 C76,136.3 74.2,138 72.5,138.9 C69.5,138.8 66.5,138.4 63.75,138.25 C60,138.6 56.5,138.6 53.1,137.6 Z" fill="#ebe9e5" stroke="#d2cec8" stroke-width="0.5"/>
<path d="M65.5,137.6 C68.5,134.6 73,133.8 77.5,135.2 C79,136.8 80,138 80.5,139" fill="none" stroke="#d5d1cb" stroke-width="1.1"/>
<path d="M84.5,134.5 C87,132.3 90,131.2 93.5,131.6" fill="none" stroke="#d8d4ce" stroke-width="0.8"/>
<ellipse cx="88.3" cy="121.3" rx="2.6" ry="2.9" fill="#e2aaa6" transform="rotate(-15 88.3 121.3)"/>
<circle cx="96.9" cy="122.1" r="0.7" fill="#c0282e"/>
<g transform="translate(45.3,108.0) rotate(62)"><rect x="3.0" y="-1.4" width="12.6" height="2.8" fill="#eef8fb" stroke="#2f7fa6" stroke-width="0.75"/><rect x="10.2" y="-1.05" width="5.2" height="2.1" fill="#56c3c9"/><line x1="0" y1="0" x2="3.0" y2="0" stroke="#2f7fa6" stroke-width="0.8"/><line x1="0.3" y1="-2.1" x2="0.3" y2="2.1" stroke="#2f7fa6" stroke-width="0.9"/><line x1="3.0" y1="-2.2" x2="3.0" y2="2.2" stroke="#2f7fa6" stroke-width="0.9"/><line x1="15.6" y1="0" x2="26.0" y2="0" stroke="#3a8fb0" stroke-width="0.6"/></g>
<text x="113.70" y="87.60" font-size="9.6" text-anchor="middle" fill="#231f20" font-weight="normal" >Prime</text>
<text x="147.20" y="87.70" font-size="9.6" text-anchor="middle" fill="#231f20" font-weight="normal" >Boost</text>
<text x="185.20" y="87.70" font-size="9.6" text-anchor="middle" fill="#231f20" font-weight="normal" >Boost</text>
<rect x="124" y="124.3" width="157" height="3.8" fill="#c3e6b5"/>
<path d="M280.8,120.8 L292.5,126.2 L280.8,131.7 Z" fill="#c3e6b5"/>
<path d="M120.00,122.2 L127.80,126.4 L120.00,130.6 Z" fill="#c43a3f" stroke="#8e1d22" stroke-width="0.9" stroke-linejoin="round"/>
<path d="M159.00,122.2 L166.80,126.4 L159.00,130.6 Z" fill="#c43a3f" stroke="#8e1d22" stroke-width="0.9" stroke-linejoin="round"/>
<path d="M195.00,122.2 L202.80,126.4 L195.00,130.6 Z" fill="#c43a3f" stroke="#8e1d22" stroke-width="0.9" stroke-linejoin="round"/>
<path d="M227.50,122.2 L235.30,126.4 L227.50,130.6 Z" fill="#c43a3f" stroke="#8e1d22" stroke-width="0.9" stroke-linejoin="round"/>
<g transform="translate(111.40,96.40) rotate(58.6)"><rect x="3.0" y="-1.45" width="12.6" height="2.9" fill="#fdf0f3" stroke="#c44a72" stroke-width="0.75"/><rect x="9.2" y="-1.05" width="6.0" height="2.1" fill="#e58aa6"/><line x1="0" y1="0" x2="3.0" y2="0" stroke="#c44a72" stroke-width="0.8"/><line x1="0.3" y1="-2.1" x2="0.3" y2="2.1" stroke="#c44a72" stroke-width="0.9"/><line x1="3.0" y1="-2.2" x2="3.0" y2="2.2" stroke="#c44a72" stroke-width="0.9"/><line x1="15.6" y1="0" x2="26.0" y2="0" stroke="#c44a72" stroke-width="0.6"/></g>
<g transform="translate(147.80,96.20) rotate(58)"><rect x="3.0" y="-1.45" width="12.6" height="2.9" fill="#fdf0f3" stroke="#c44a72" stroke-width="0.75"/><rect x="9.2" y="-1.05" width="6.0" height="2.1" fill="#e58aa6"/><line x1="0" y1="0" x2="3.0" y2="0" stroke="#c44a72" stroke-width="0.8"/><line x1="0.3" y1="-2.1" x2="0.3" y2="2.1" stroke="#c44a72" stroke-width="0.9"/><line x1="3.0" y1="-2.2" x2="3.0" y2="2.2" stroke="#c44a72" stroke-width="0.9"/><line x1="15.6" y1="0" x2="26.0" y2="0" stroke="#c44a72" stroke-width="0.6"/></g>
<g transform="translate(185.60,94.60) rotate(60.5)"><rect x="3.0" y="-1.45" width="12.6" height="2.9" fill="#fdf0f3" stroke="#c44a72" stroke-width="0.75"/><rect x="9.2" y="-1.05" width="6.0" height="2.1" fill="#e58aa6"/><line x1="0" y1="0" x2="3.0" y2="0" stroke="#c44a72" stroke-width="0.8"/><line x1="0.3" y1="-2.1" x2="0.3" y2="2.1" stroke="#c44a72" stroke-width="0.9"/><line x1="3.0" y1="-2.2" x2="3.0" y2="2.2" stroke="#c44a72" stroke-width="0.9"/><line x1="15.6" y1="0" x2="26.0" y2="0" stroke="#c44a72" stroke-width="0.6"/></g>
<path d="M230.8,105 C232.5,109 234.6,111 234.6,113.3 C234.6,115.5 232.9,116.8 230.8,116.8 C228.7,116.8 227.0,115.5 227.0,113.3 C227.0,111 229.1,109 230.8,105 Z" fill="#c8282e"/>
<text x="122.20" y="145.30" font-size="9.6" text-anchor="middle" fill="#231f20" font-weight="normal" >0</text>
<text x="162.20" y="145.30" font-size="9.6" text-anchor="middle" fill="#231f20" font-weight="normal" >3</text>
<text x="198.00" y="145.30" font-size="9.6" text-anchor="middle" fill="#231f20" font-weight="normal" >6</text>
<text x="230.40" y="145.30" font-size="9.6" text-anchor="middle" fill="#231f20" font-weight="normal" >8</text>
<text x="266.60" y="145.30" font-size="9.4" text-anchor="middle" fill="#231f20" font-weight="normal" >Weeks</text>
<circle cx="213.8" cy="78.0" r="1.05" fill="#231f20"/>
<circle cx="213.8" cy="92.0" r="1.05" fill="#231f20"/>
<text x="218.20" y="81.80" font-size="9.85" text-anchor="start" fill="#231f20" font-weight="normal" >Binding antibody</text>
<text x="218.20" y="95.90" font-size="9.9" text-anchor="start" fill="#231f20" font-weight="normal" >Neutralizing antibody</text>
</svg></body></html>
